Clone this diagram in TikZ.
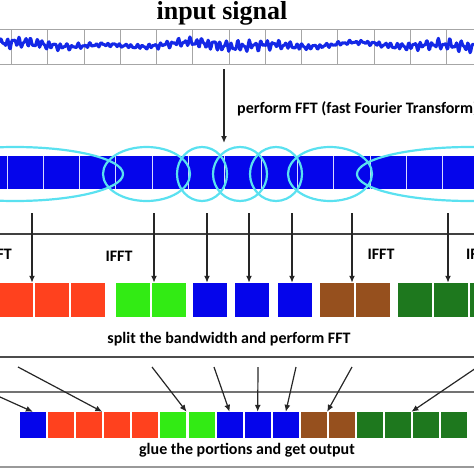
\documentclass[tikz,border=0pt]{standalone}
\usepackage{fontspec}
\setmainfont{Liberation Serif}
\newfontfamily\lblfont{Carlito}
\usetikzlibrary{arrows.meta}
\definecolor{sigblue}{RGB}{20,40,230}
\definecolor{binblue}{RGB}{5,5,235}
\definecolor{ringcyan}{RGB}{90,225,240}
\definecolor{bandred}{RGB}{255,65,30}
\definecolor{bandgreen}{RGB}{50,235,20}
\definecolor{bandbrown}{RGB}{150,80,30}
\definecolor{banddkgreen}{RGB}{30,120,30}
\tikzset{
  lbl/.style={font=\lblfont\bfseries\fontsize{16}{18}\selectfont,inner sep=0pt},
  sq/.style={minimum width=34pt,minimum height=34pt,inner sep=0pt},
  osq/.style={minimum width=26pt,minimum height=26pt,inner sep=0pt},
  arr/.style={-{Latex[length=7pt,width=6pt]},line width=1.5pt,black!85},
  ring/.style={ringcyan,line width=2.2pt},
}
\begin{document}
\begin{tikzpicture}[x=1pt,y=-1pt]
  \useasboundingbox (0,0) rectangle (474,474);
  % input signal
  \node[anchor=base,inner sep=0pt,font=\bfseries\fontsize{26}{28}\selectfont] (title) at (222,19) {input signal};
  \draw[gray!70,line width=1pt] (-1,29.5) rectangle (475,64.5);
  \foreach \i in {0,...,12}
    \draw[gray!70,line width=1pt] (11.7+36.25*\i,29.5) -- (11.7+36.25*\i,64.5);
  \draw[sigblue,line width=3pt,line join=round] plot[domain=0:474,samples=600]
    (\x,{45-1.6*sin(\x*4.3)-1.2*sin(\x*2.1+50)-(0.35+0.65*(0.5+0.5*cos(\x*1.55)))*(3.4*sin(61*mod(\x,5.90164))+2.2*sin(97*mod(\x,3.71134)+40)+1.4*sin(\x*29))});
  % FFT
  \coordinate (fftstart) at (224,69);
  \coordinate (fftend) at (224,143);
  \draw[arr] (fftstart) -- (fftend);
  \node[lbl,anchor=base west] (fftlbl) at (237,113) {perform FFT (fast Fourier Transform)};
  \fill[binblue] (-1,156) rectangle (475,189);
  \foreach \i in {0,...,12}
    \draw[white!85!blue,line width=1pt] (7+36.3*\i,156) -- (7+36.3*\i,189);
  \foreach \cx/\rx in {15/108,146.5/43.5,202/25,240/27,276/26,330/42,470/113}
    \draw[ring] (\cx,174) ellipse [x radius=\rx,y radius=27];
  % split the bandwidth
  \draw[black!75,line width=2pt] (-1,234) -- (475,234);
  \foreach \n/\cx/\col in {r1/16/bandred,r2/52/bandred,r3/88/bandred,
      g1/133/bandgreen,g2/169/bandgreen,b1/210/binblue,b2/251.5/binblue,b3/295/binblue,
      n1/337/bandbrown,n2/373/bandbrown,d1/415/banddkgreen,d2/451/banddkgreen,d3/487/banddkgreen}
    \node[sq,fill=\col] (\n) at (\cx,300) {};
  \foreach \x/\t in {32/r1,154/g1,207/b1,249/b2,292/b3,352/n1,448/d2}{
    \coordinate (s\t) at (\x,213);
    \draw[arr] (s\t) -- (s\t |- \t.north);
  }
  \node[lbl,anchor=base east] (ifft1) at (12,259) {IFFT};
  \node[lbl,anchor=base] (ifft2) at (119,261) {IFFT};
  \node[lbl,anchor=base] (ifft3) at (381,259) {IFFT};
  \node[lbl,anchor=base west] (ifft4) at (466,259) {IFFT};
  \node[lbl,anchor=base] (split) at (229,343) {split the bandwidth and perform FFT};
  % glue
  \draw[black!70,line width=2.5pt] (-1,357) -- (475,357);
  \draw[black!55,line width=2.5pt] (-1,392) -- (475,392);
  \draw[black!40,line width=2pt] (-1,467) -- (475,467);
  \foreach \col [count=\i] in {binblue,bandred,bandred,bandred,bandred,bandgreen,bandgreen,
      binblue,binblue,binblue,bandbrown,bandbrown,banddkgreen,banddkgreen,banddkgreen,banddkgreen}
    \node[osq,fill=\col] (o\i) at (4.8+28.1*\i,425) {};
  \foreach \x/\y/\t in {0/397/o1.north,18/367/o3.north east,152/367/o6.north east,
      214/367/o8.north,258/367/o9.north,296/367/o10.north,352/367/o11.north east,
      476/368/o14.north east}{
    \coordinate (u\x) at (\x,\y);
    \draw[arr,line width=1.2pt] (u\x) -- (\t);
  }
  \node[lbl,anchor=base] (glue) at (247,454) {glue the portions and get output};
\end{tikzpicture}
\end{document}
